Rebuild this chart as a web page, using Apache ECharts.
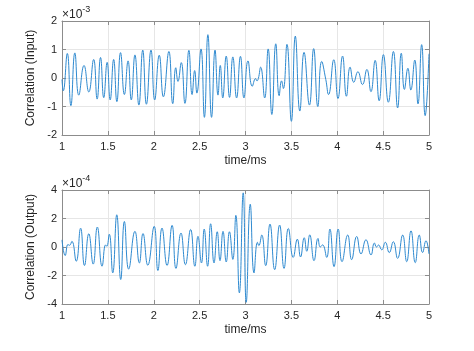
<!DOCTYPE html>
<html>
<head>
<meta charset="UTF-8">
<title>Correlation</title>
<script src="https://cdn.jsdelivr.net/npm/echarts@6/dist/echarts.min.js"></script>
<style>
  html, body { margin: 0; padding: 0; background: #fff; }
  #main { width: 474px; height: 351px; }
</style>
</head>
<body>
<div id="main"></div>
<script type="text/javascript">
  // peaks and troughs, time in ms
  // input values are in units of 1e-3, output values in units of 1e-4
  var inputTime = [1.000, 1.014, 1.058, 1.097, 1.140, 1.183, 1.240, 1.292, 1.345, 1.383,
    1.420, 1.455, 1.492, 1.525, 1.563, 1.598, 1.638, 1.680, 1.720, 1.755,
    1.795, 1.838, 1.880, 1.920, 1.970, 2.010, 2.060, 2.105, 2.165, 2.207,
    2.240, 2.264, 2.300, 2.340, 2.383, 2.418, 2.446, 2.470, 2.515, 2.552,
    2.590, 2.630, 2.668, 2.700, 2.725, 2.752, 2.790, 2.826, 2.862, 2.903,
    2.945, 2.983, 3.027, 3.074, 3.110, 3.125, 3.140, 3.165, 3.209, 3.247,
    3.287, 3.330, 3.367, 3.393, 3.413, 3.452, 3.500, 3.543, 3.592, 3.638,
    3.697, 3.743, 3.788, 3.830, 3.875, 3.905, 3.962, 4.008, 4.058, 4.100,
    4.140, 4.180, 4.225, 4.275, 4.323, 4.367, 4.413, 4.457, 4.503, 4.557,
    4.612, 4.658, 4.698, 4.732, 4.770, 4.802, 4.845, 4.880, 4.920, 4.958, 5.000];
  var inputCorr = [-0.05, -0.45, 0.86, -0.97, 0.88, -0.60, 0.44, -0.49, 0.65, -0.74,
    0.72, -0.69, 0.55, -0.77, 0.65, -0.83, 0.89, -0.58, 0.60, -0.77,
    0.81, -0.95, 0.98, -0.92, 0.98, -0.77, 0.80, -0.66, 0.93, -0.90,
    0.36, -0.12, 0.54, -0.89, 0.97, -0.58, 0.26, -0.53, 1.02, -1.38,
    1.52, -1.38, 0.98, -0.60, 0.44, -0.70, 0.77, -0.68, 0.74, -0.70,
    0.76, -0.70, 0.60, -0.29, -0.02, -0.10, -0.02, 0.38, -0.70, 1.02,
    -1.28, 1.20, -0.62, -0.10, -0.37, 1.18, -1.52, 1.47, -1.16, 0.90,
    -0.95, 1.03, -1.00, 0.58, -0.05, -0.58, 0.64, -0.72, 0.77, -0.64,
    0.38, -0.15, 0.22, -0.23, 0.30, -0.48, 0.62, -0.80, 0.82, -0.85,
    0.93, -1.05, 0.87, -0.40, 0.34, -0.42, 0.63, -0.91, 1.17, -1.32, 0.85];

  var outputTime = [1.000, 1.035, 1.065, 1.082, 1.108, 1.155, 1.203, 1.245, 1.292, 1.340,
    1.385, 1.437, 1.475, 1.488, 1.515, 1.553, 1.597, 1.640, 1.680, 1.727,
    1.795, 1.843, 1.883, 1.935, 2.005, 2.045, 2.090, 2.145, 2.200, 2.242,
    2.297, 2.345, 2.402, 2.448, 2.482, 2.520, 2.550, 2.587, 2.620, 2.657,
    2.692, 2.722, 2.755, 2.790, 2.825, 2.862, 2.895, 2.933, 2.975, 3.008,
    3.052, 3.093, 3.130, 3.145, 3.177, 3.220, 3.267, 3.318, 3.372, 3.420,
    3.467, 3.520, 3.565, 3.600, 3.640, 3.668, 3.700, 3.747, 3.790, 3.815,
    3.840, 3.885, 3.920, 3.965, 4.010, 4.052, 4.114, 4.157, 4.212, 4.259,
    4.313, 4.368, 4.405, 4.428, 4.450, 4.485, 4.524, 4.567, 4.611, 4.658,
    4.713, 4.757, 4.804, 4.850, 4.894, 4.930, 4.967, 5.000];
  var outputCorr = [0.50, -0.60, 0.18, 0.12, 0.40, -1.00, 1.32, -1.30, 0.93, -1.20,
    1.40, -1.35, 0.15, 0.05, 0.90, -1.82, 2.26, -2.28, 1.79, -1.55,
    1.10, -1.12, 0.95, -1.28, 1.45, -1.65, 1.33, -1.30, 1.52, -1.50,
    0.98, -1.24, 1.23, -1.35, 0.75, -1.12, 1.26, -1.35, 1.63, -1.12,
    1.07, -0.96, 1.10, -1.05, 1.07, -0.87, 2.22, -3.22, 3.80, -3.88,
    3.00, -1.82, 0.33, 0.10, 0.84, -1.31, 1.61, -1.59, 1.54, -1.50,
    1.30, -0.73, 0.55, -0.70, 0.65, -0.30, 0.85, -0.96, 0.60, 0.00,
    0.15, -0.73, 1.26, -1.38, 1.26, -1.03, 0.84, -0.89, 0.74, -0.49,
    0.51, -0.56, 0.28, 0.00, 0.14, -0.20, 0.33, -0.39, 0.37, -0.80,
    0.84, -1.03, 1.14, -1.10, 0.84, -0.39, 0.44, -0.49];

  var yNames = ['Correlation (Input)', 'Correlation (Output)'];
  var exponents = ['-3', '-4'];
  var xName = 'time/ms';

  var font = 'Liberation Sans, Arial, Helvetica, sans-serif';
  var boxColor = '#8c8c8c';
  var textColor = '#262626';
  var lineColor = '#2f8ad0';

  function pairs(xs, ys) {
    return xs.map(function (x, i) { return [x, ys[i]]; });
  }

  var grids = [
    { left: 62, right: 45, top: 21, height: 114 },
    { left: 62, right: 45, top: 190, height: 114 }
  ];
  var yRange = [[-2, 2, 1], [-4, 4, 2]];

  var xAxes = [], yAxes = [];
  for (var g = 0; g < 2; g++) {
    xAxes.push({
      type: 'value', gridIndex: g, position: 'bottom', min: 1, max: 5, interval: 0.5,
      name: xName, nameLocation: 'middle', nameGap: 20,
      nameTextStyle: { color: textColor, fontSize: 12, fontFamily: font },
      axisLine: { show: true, onZero: false, lineStyle: { color: boxColor, width: 1 } },
      axisTick: { inside: true, length: 4, lineStyle: { color: boxColor } },
      axisLabel: { color: textColor, fontSize: 11, fontFamily: font, margin: 6 },
      splitLine: { show: true, lineStyle: { color: '#e6e6e6', width: 1 } }
    });
    xAxes.push({
      type: 'value', gridIndex: g, position: 'top', min: 1, max: 5, interval: 0.5,
      axisLine: { show: true, onZero: false, lineStyle: { color: boxColor, width: 1 } },
      axisTick: { inside: true, length: 4, lineStyle: { color: boxColor } },
      axisLabel: { show: false },
      splitLine: { show: false }
    });
    yAxes.push({
      type: 'value', gridIndex: g, position: 'left',
      min: yRange[g][0], max: yRange[g][1], interval: yRange[g][2],
      name: yNames[g], nameLocation: 'middle', nameGap: 17,
      nameTextStyle: { color: textColor, fontSize: 12, fontFamily: font },
      axisLine: { show: true, onZero: false, lineStyle: { color: boxColor, width: 1 } },
      axisTick: { inside: true, length: 4, lineStyle: { color: boxColor } },
      axisLabel: { color: textColor, fontSize: 11, fontFamily: font, margin: 5 },
      splitLine: { show: true, lineStyle: { color: '#e6e6e6', width: 1 } }
    });
    yAxes.push({
      type: 'value', gridIndex: g, position: 'right',
      min: yRange[g][0], max: yRange[g][1], interval: yRange[g][2],
      axisLine: { show: true, onZero: false, lineStyle: { color: boxColor, width: 1 } },
      axisTick: { inside: true, length: 4, lineStyle: { color: boxColor } },
      axisLabel: { show: false },
      splitLine: { show: false }
    });
  }

  var expText = exponents.map(function (e, i) {
    return {
      type: 'text', left: 62, top: i === 0 ? 5 : 174,
      style: {
        text: '{a|×10}{b|' + e + '}',
        rich: {
          a: { fontSize: 12, fontFamily: font, fill: textColor, padding: [6, 0, 0, 0] },
          b: { fontSize: 9, fontFamily: font, fill: textColor, padding: [0, 0, 4, 0] }
        }
      }
    };
  });

  var myChart = echarts.init(document.getElementById('main'));
  var option = {
    animation: false,
    backgroundColor: '#fff',
    grid: grids,
    xAxis: xAxes,
    yAxis: yAxes,
    graphic: expText,
    series: [
      {
        type: 'line', xAxisIndex: 0, yAxisIndex: 0,
        data: pairs(inputTime, inputCorr),
        showSymbol: false, smooth: 0.5,
        lineStyle: { color: lineColor, width: 1 }
      },
      {
        type: 'line', xAxisIndex: 2, yAxisIndex: 2,
        data: pairs(outputTime, outputCorr),
        showSymbol: false, smooth: 0.5,
        lineStyle: { color: lineColor, width: 1 }
      }
    ]
  };
  myChart.setOption(option);
</script>
</body>
</html>
